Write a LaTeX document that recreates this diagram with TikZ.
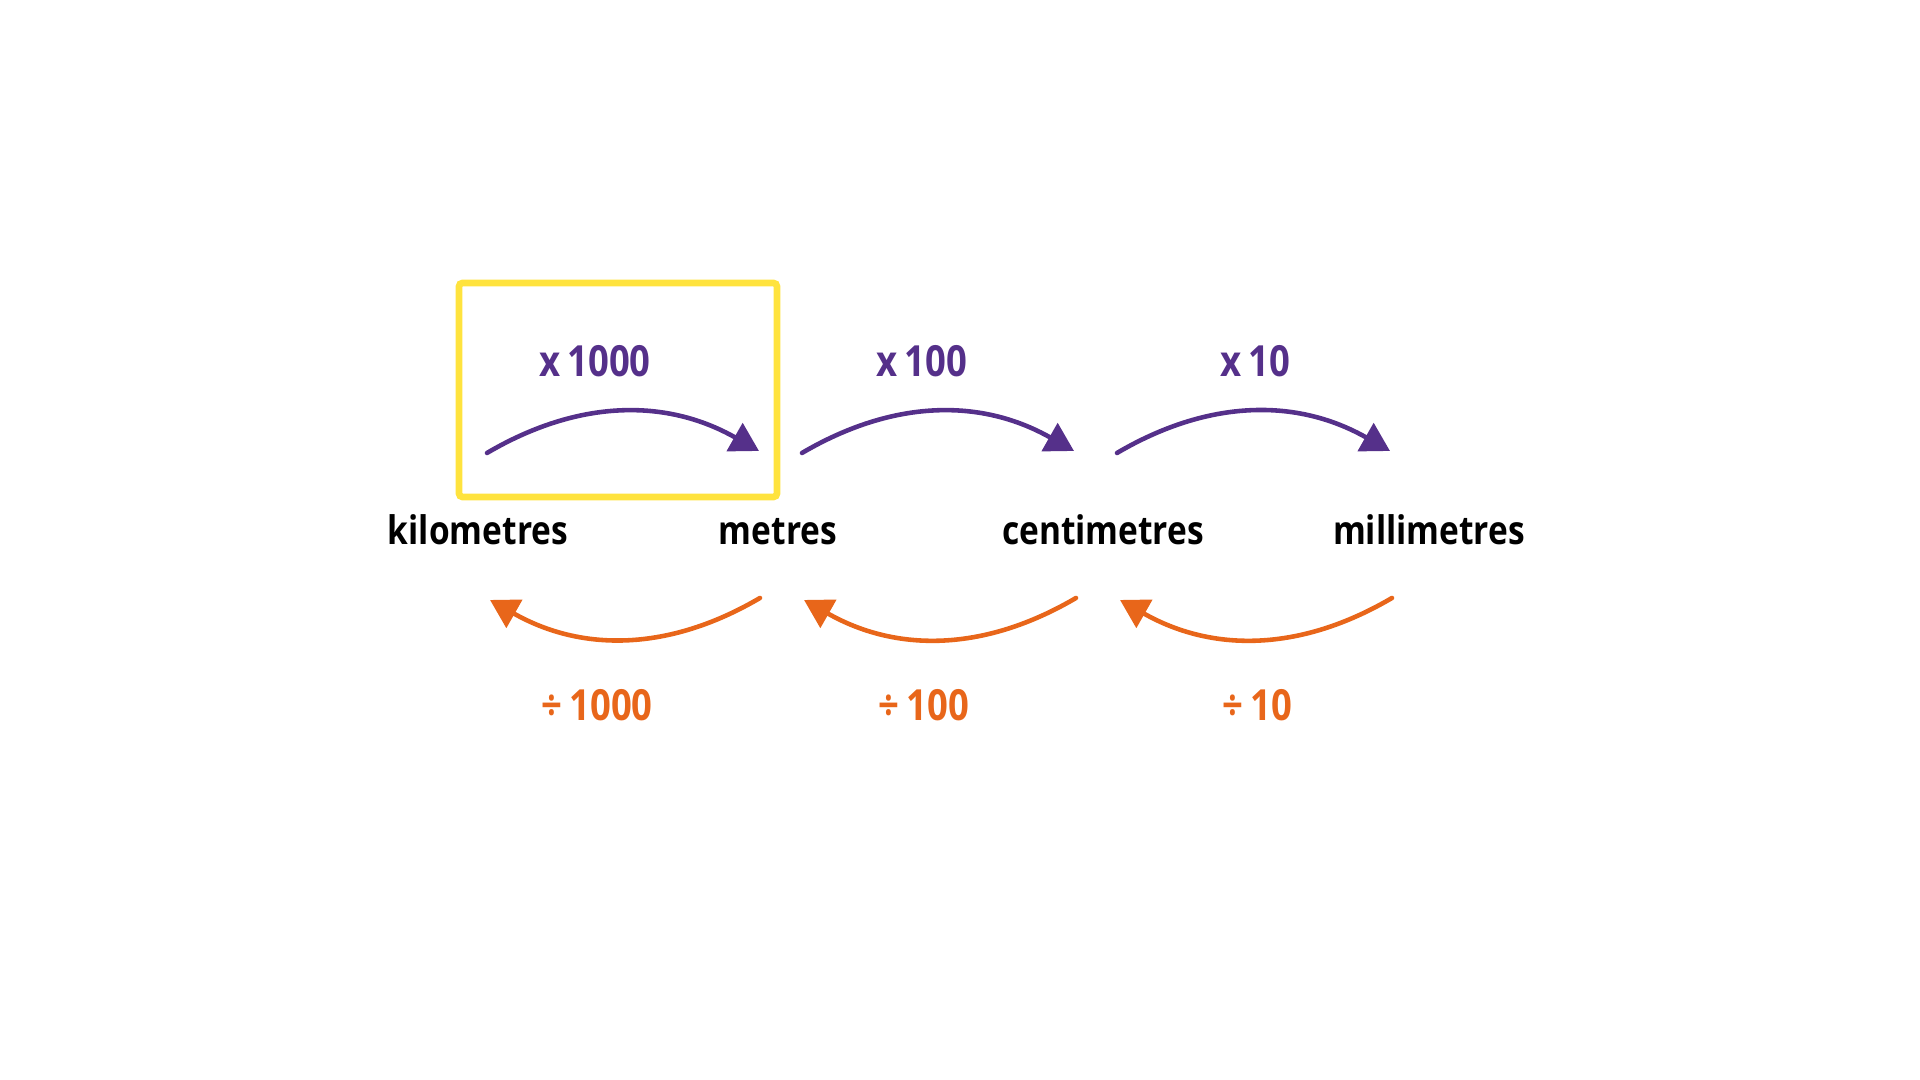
\documentclass[tikz,border=0pt]{standalone}
\usepackage{fontspec}
\setmainfont{Open Sans}[FakeStretch=0.85]
\usetikzlibrary{arrows.meta}
\definecolor{mulpurple}{HTML}{55308A}
\definecolor{divorange}{HTML}{E8661A}
\definecolor{boxyellow}{HTML}{FFE33E}

\begin{document}
\begin{tikzpicture}[x=0.01cm, y=0.01cm, >={Triangle[length=8pt, width=9pt]}, line width=1.3pt,
  unit/.style={anchor=base, font=\fontsize{11.2}{13}\selectfont\bfseries},
  factor/.style={anchor=base, font=\fontsize{12.2}{14}\selectfont\bfseries}]
  \useasboundingbox (0,0) rectangle (1920,1080);
  \draw[boxyellow, line width=1.9pt, rounded corners=1pt] (459,583) rectangle (777,797);
  \foreach \name/\txt/\x in {km/kilometres/478, m/metres/778, cm/centimetres/1103, mm/millimetres/1429}
    \node[unit] (\name) at (\x,535) {\txt};
  \foreach \i/\val/\x in {1/1000/595, 2/100/922, 3/10/1255} {
    \node[factor, mulpurple] (mul\i) at (\x,703) {x\,\val};
    \node[factor, divorange] (div\i) at (\x+2,359) {÷\,\val};
  }
  % multiply arcs above, divide arcs below
  \foreach \i/\xa/\xb in {1/487/759, 2/802/1074, 3/1117/1390} {
    \coordinate (top\i-from) at (\xa,627);
    \coordinate (top\i-to) at (\xb,629);
    \draw[->, mulpurple, line cap=round] (top\i-from) to[bend left=30] (top\i-to);
  }
  \foreach \i/\xa/\xb in {1/760/490, 2/1076/804, 3/1392/1120} {
    \coordinate (bot\i-from) at (\xa,482);
    \coordinate (bot\i-to) at (\xb,480);
    \draw[->, divorange, line cap=round] (bot\i-from) to[bend left=30] (bot\i-to);
  }
\end{tikzpicture}
\end{document}
